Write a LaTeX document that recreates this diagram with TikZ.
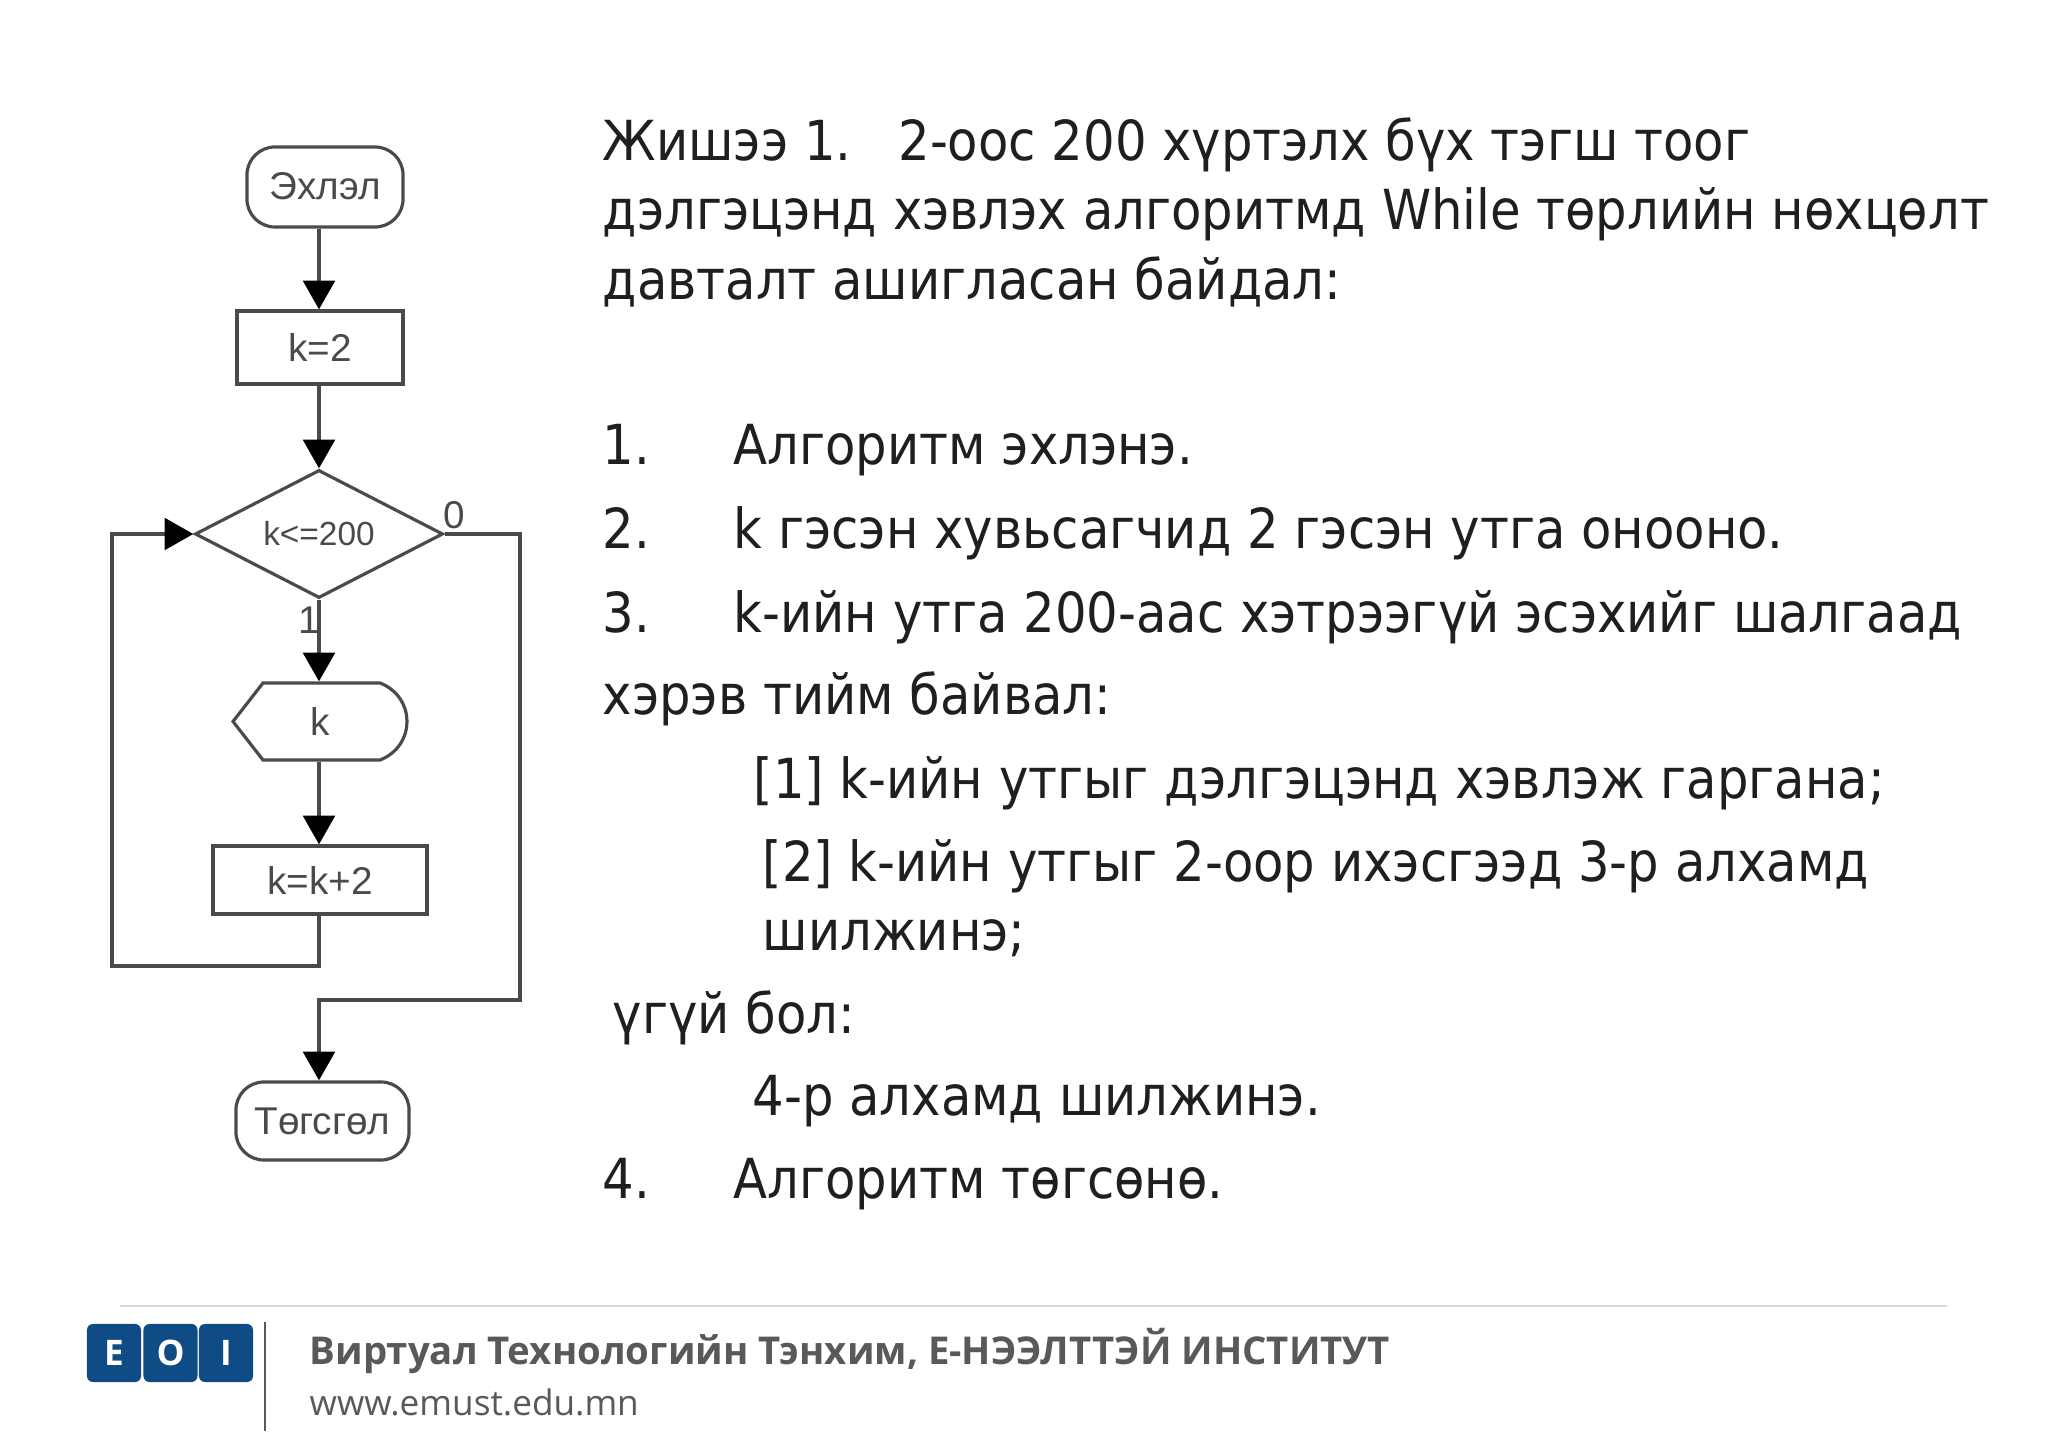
\documentclass[tikz,border=0pt]{standalone}
\usepackage{fontspec}
\usepackage{xcolor}
\usetikzlibrary{shapes,arrows.meta,positioning}
\setmainfont{DejaVu Sans Condensed}
\newfontfamily\chartfont{Liberation Sans}
\newfontfamily\footfont{Open Sans}
\definecolor{chartgray}{HTML}{4A4A4A}
\definecolor{logoblue}{HTML}{0F4C86}
\definecolor{footgray}{HTML}{595959}
\tikzset{
  flow/.style={line width=1.1pt, draw=chartgray, -{Triangle[width=9pt,length=8.2pt,color=black]}},
  chart/.style={draw=chartgray, line width=0.9pt, text=chartgray, font=\chartfont\fontsize{11}{13}\selectfont, inner sep=0pt},
  mark label/.style={text=chartgray, font=\chartfont\fontsize{11}{13}\selectfont, inner sep=0pt},
  terminal/.style={chart, rectangle, rounded corners=0.28cm},
  proc/.style={chart, rectangle},
  body/.style={anchor=base west, inner sep=0pt, text=black!88, font=\fontsize{15.7}{18}\selectfont},
  logokey/.style={fill=logoblue, rounded corners=0.06cm, minimum width=0.54cm, minimum height=0.58cm, inner sep=0pt, text=white, font=\footfont\bfseries\fontsize{10}{12}\selectfont},
}
\begin{document}
\begin{tikzpicture}[x=0.01cm, y=-0.01cm]
  \useasboundingbox (0,0) rectangle (2048,1440);

  % flowchart
  \node[terminal, minimum width=1.56cm, minimum height=0.80cm] (start) at (325,187) {\raisebox{0.6pt}{Эхлэл}};
  \node[proc, minimum width=1.66cm, minimum height=0.73cm] (init) at (320,347.5) {k=2};
  \node[chart, diamond, aspect=1.94, minimum width=2.48cm, minimum height=1.28cm, font=\chartfont\fontsize{9.5}{12}\selectfont] (test) at (319,534) {k<=200};
  \node[chart, draw=none, minimum width=1.74cm, minimum height=0.77cm] (show) at (320,721.5) {k};
  \node[proc, minimum width=2.14cm, minimum height=0.68cm] (inc) at (320,880) {k=k+2};
  \node[terminal, minimum width=1.73cm, minimum height=0.78cm] (stop) at (322.5,1121) {Төгсгөл};

  \draw[chart] (233,721.5) -- (263,683) -- (380,683) .. controls (398,690) and (407,706) .. (407,721.5)
    .. controls (407,737) and (398,753) .. (380,760) -- (263,760) -- cycle;

  \coordinate (loopl) at (112,966);
  \coordinate (exitr) at (520,1000);
  \coordinate (stopin) at (stop.north -| test.south);

  \draw[flow] (test.south |- start.south) -- (test.south |- init.north);
  \draw[flow] (test.south |- init.south) -- (test.north);
  \draw[flow] (test.south) -- (show.north -| test.south);
  \draw[flow] (show.south -| test.south) -- (inc.north -| test.south);
  \draw[flow] (inc.south -| test.south) |- (loopl) |- (test.west);
  \draw[flow] (test.east) -| (exitr) -| (stopin);

  \node[mark label] (no) at (454,515) {0};
  \node[mark label] (yes) at (309,620) {1};

  % text
  \node[body] (t1) at (602,161) {Жишээ 1.\hspace{0.85em}2-оос 200 хүртэлх бүх тэгш тоог};
  \node[body] (t2) at (602,230) {дэлгэцэнд хэвлэх алгоритмд While төрлийн нөхцөлт};
  \node[body] (t3) at (602,300) {давталт ашигласан байдал:};
  \node[body] (n1) at (602,465) {1.};
  \node[body] (s1) at (733,465) {Алгоритм эхлэнэ.};
  \node[body] (n2) at (602,549) {2.};
  \node[body] (s2) at (733,549) {k гэсэн хувьсагчид 2 гэсэн утга онооно.};
  \node[body] (n3) at (602,633) {3.};
  \node[body] (s3) at (733,633) {k-ийн утга 200-аас хэтрээгүй эсэхийг шалгаад};
  \node[body] (s3b) at (602,715) {хэрэв тийм байвал:};
  \node[body] (s4) at (753,799) {[1] k-ийн утгыг дэлгэцэнд хэвлэж гаргана;};
  \node[body] (s5) at (762,881) {[2] k-ийн утгыг 2-оор ихэсгээд 3-р алхамд};
  \node[body] (s5b) at (762,951) {шилжинэ;};
  \node[body] (s6) at (612,1033) {үгүй бол:};
  \node[body] (s7) at (752,1115) {4-р алхамд шилжинэ.};
  \node[body] (n4) at (602,1198) {4.};
  \node[body] (s8) at (733,1198) {Алгоритм төгсөнө.};

  % footer
  \draw[black!15, line width=0.6pt] (120,1306) -- (1947,1306);
  \draw[footgray, line width=0.7pt] (265,1322) -- (265,1431);
  \node[logokey] (le) at (114,1353) {E};
  \node[logokey] (lo) at (170.5,1353) {O};
  \node[logokey] (li) at (226,1353) {I};
  \node[anchor=base west, inner sep=0pt, text=footgray, font=\footfont\bfseries\fontsize{10.9}{14}\selectfont] (fa) at (309,1364) {Виртуал Технологийн Тэнхим, Е-НЭЭЛТТЭЙ ИНСТИТУТ};
  \node[anchor=base west, inner sep=0pt, text=footgray, font=\footfont\fontsize{10}{12}\selectfont] (fb) at (309,1415) {www.emust.edu.mn};
\end{tikzpicture}
\end{document}
